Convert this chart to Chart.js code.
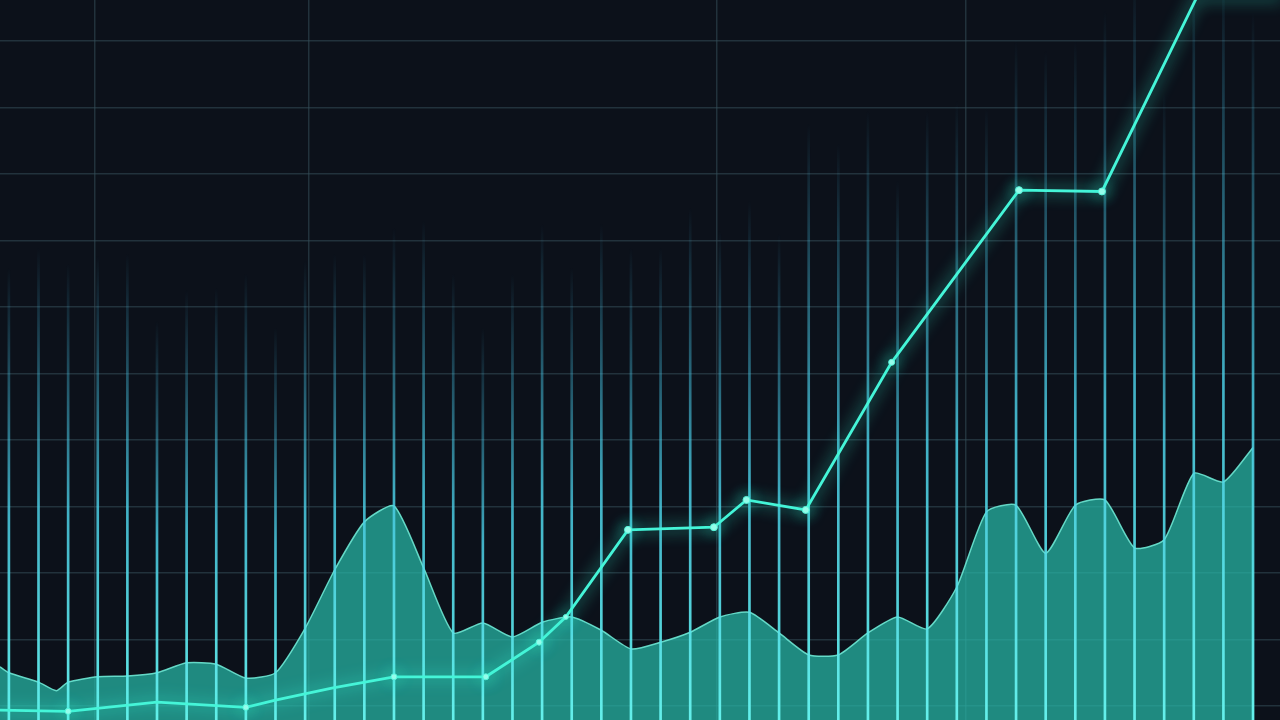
<!DOCTYPE html>
<html>
<head>
<meta charset="utf-8">
<title>Growth chart</title>
<script src="https://cdn.jsdelivr.net/npm/chart.js@4.4.1/dist/chart.umd.min.js"></script>
<style>
    html, body { margin: 0; padding: 0; background: #0c111a; }
    #wrap { width: 1280px; height: 720px; position: relative; }
</style>
</head>
<body>
<div id="wrap"><canvas id="growth-chart"></canvas></div>
<script>
// Vertical light bars: one per slot, value = height the bar fades out at
const barSlots = [0,1,2,3,4,5,6,7,8,9,10,11,12,13,14,15,16,17,18,19,20,21,22,23,24,25,26,27,28,29,30,31,32,33,34,35,36,37,38,39,40,41,42];
const barTops = [66, 69, 66.6, 67.8, 68.1, 58, 62.6, 63, 65.1, 57, 67.1, 68.1, 68.1, 72, 73.1, 65.1, 57, 65.1, 72.6, 66, 72.6, 69, 69, 75, 71.6, 76.1, 71.1, 87.7, 84.7, 89.6, 79.1, 89.6, 91.1, 90.1, 100.2, 98.6, 100.2, 104.7, 110, 92.6, 110, 110, 104.7];

// Filled area series
const areaX = [-0.3, 0, 1, 1.6, 2, 3, 4, 5, 6, 7, 8, 9, 10, 11, 12, 13, 14, 15, 16, 17, 18, 19, 20, 21, 22, 23, 24, 25, 26, 27, 28, 29, 30, 31, 32, 33, 34, 35, 36, 37, 38, 39, 40, 41, 42];
const areaY = [5.9, 5.0, 3.6, 2.3, 3.6, 4.4, 4.5, 5.0, 6.5, 6.3, 4.2, 5.0, 11.7, 20.5, 27.7, 30.1, 20.8, 11.0, 12.5, 10.4, 12.6, 13.4, 11.4, 8.6, 9.6, 11.1, 13.4, 14.1, 11.0, 7.7, 7.7, 11.0, 13.4, 11.6, 17.9, 29.2, 30.2, 23.0, 30.2, 31.0, 23.8, 25.0, 35.0, 33.7, 38.9];

// Glowing trend line
const lineX = [-0.3, 2.0, 5.0, 8.0, 9.0, 10.9, 13.0, 16.1, 17.9, 18.8, 20.9, 23.8, 24.9, 26.9, 29.8, 34.1, 36.9, 40.1, 43.0];
const lineY = [-0.6, -0.8, 0.6, -0.2, 0.9, 2.7, 4.4, 4.4, 9.6, 13.4, 26.5, 26.9, 31.0, 29.5, 51.7, 77.6, 77.4, 106.6, 106.6];
const lineDots = [0, 3, 0, 3, 0, 0, 3, 3, 3, 2.5, 3.5, 3.5, 3.5, 3.5, 3, 3.5, 3.5, 0, 0];

// Background grid positions
const yGrid = [0, 10, 20, 30, 40, 50, 60, 70, 80, 90, 100];
const xGrid = [2.9, 10.13, 23.9, 32.3];

const Y_MIN = -2.1;
const Y_MAX = 106.2;
const gridColor = 'rgba(52, 78, 90, 0.55)';

// glow for the trend line (canvas shadow around one dataset)
const glowPlugin = {
    id: 'glow',
    beforeDatasetDraw(chart, args) {
        const ds = chart.data.datasets[args.index];
        if (!ds.glow) return;
        chart.ctx.save();
        chart.ctx.shadowColor = ds.glow;
        chart.ctx.shadowBlur = 16;
    },
    afterDatasetDraw(chart, args) {
        const ds = chart.data.datasets[args.index];
        if (!ds.glow) return;
        chart.ctx.restore();
    }
};

function barGradient(context) {
    const chart = context.chart;
    const area = chart.chartArea;
    if (!area || context.type !== 'data') return 'rgba(80, 210, 230, 0.8)';
    const top = chart.scales.y.getPixelForValue(barTops[context.dataIndex]);
    const g = chart.ctx.createLinearGradient(0, area.bottom, 0, top);
    g.addColorStop(0, 'rgba(100, 240, 235, 1)');
    g.addColorStop(0.45, 'rgba(75, 205, 228, 0.85)');
    g.addColorStop(1, 'rgba(60, 170, 210, 0)');
    return g;
}

const ctx = document.getElementById('growth-chart').getContext('2d');
const growthChart = new Chart(ctx, {
    type: 'bar',
    data: {
        datasets: [
            {
                type: 'line',
                data: lineX.map((x, i) => ({ x: x, y: lineY[i] })),
                borderColor: '#45f5d8',
                borderWidth: 2.8,
                tension: 0,
                fill: false,
                pointRadius: lineDots,
                pointBackgroundColor: '#9afcec',
                pointBorderColor: '#55f7dc',
                pointBorderWidth: 1,
                glow: 'rgba(50, 240, 210, 1)',
                order: 0
            },
            {
                type: 'bar',
                data: barSlots.map((x, i) => ({ x: x, y: [Y_MIN, barTops[i]] })),
                backgroundColor: barGradient,
                borderWidth: 0,
                barThickness: 2,
                order: 1
            },
            {
                type: 'line',
                data: areaX.map((x, i) => ({ x: x, y: areaY[i] })),
                borderColor: 'rgba(110, 232, 212, 0.9)',
                borderWidth: 1.5,
                backgroundColor: 'rgba(40, 190, 172, 0.7)',
                fill: 'start',
                tension: 0.2,
                pointRadius: 0,
                order: 2
            }
        ]
    },
    options: {
        responsive: true,
        maintainAspectRatio: false,
        animation: false,
        layout: { padding: 0 },
        plugins: {
            legend: { display: false },
            tooltip: { enabled: false }
        },
        scales: {
            x: {
                type: 'linear',
                min: -0.3,
                max: 42.91,
                offset: false,
                afterBuildTicks: scale => { scale.ticks = xGrid.map(v => ({ value: v })); },
                ticks: { display: false },
                border: { display: false },
                grid: { color: gridColor, lineWidth: 1.5, drawTicks: false, offset: false }
            },
            y: {
                min: Y_MIN,
                max: Y_MAX,
                afterBuildTicks: scale => { scale.ticks = yGrid.map(v => ({ value: v })); },
                ticks: { display: false },
                border: { display: false },
                grid: { color: gridColor, lineWidth: 1.5, drawTicks: false }
            }
        }
    },
    plugins: [glowPlugin]
});
</script>
</body>
</html>
